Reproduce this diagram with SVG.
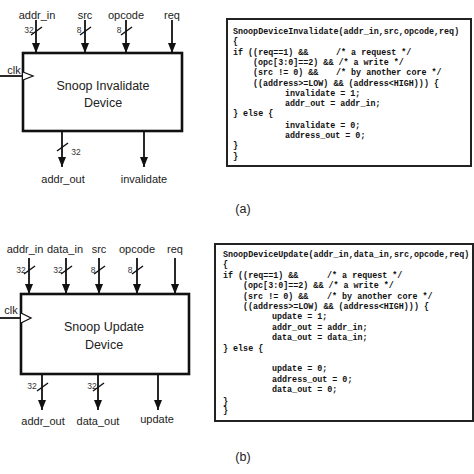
<svg xmlns="http://www.w3.org/2000/svg" width="474" height="474" viewBox="0 0 474 474">
<style>
  .lbl{font-family:"Liberation Sans",Arial,sans-serif;font-size:11px;fill:#222;text-anchor:middle}
  .bw{font-family:"Liberation Sans",Arial,sans-serif;font-size:8.5px;fill:#333;text-anchor:middle}
  .title{font-family:"Liberation Sans",Arial,sans-serif;font-size:12.5px;fill:#222;text-anchor:middle}
  .cap{font-family:"Liberation Sans",Arial,sans-serif;font-size:12.5px;fill:#222;text-anchor:middle}
  .code{font-family:"Liberation Mono","Courier New",monospace;font-size:8.4px;fill:#111;font-weight:bold}
  .blk{fill:#fff;stroke:#111;stroke-width:2.6}
  .cbox{fill:#fff;stroke:#222;stroke-width:2}
  .wire{stroke:#111;stroke-width:1.8;fill:none}
  .slash{stroke:#111;stroke-width:1.5}
  .clkt{fill:#fff;stroke:#111;stroke-width:1.3}
</style>
<defs>
  <marker id="ah" viewBox="0 0 10 8" refX="10" refY="4" markerWidth="10" markerHeight="8" markerUnits="userSpaceOnUse" orient="auto">
    <path d="M0,0 L10,4 L0,8 z" fill="#111"/>
  </marker>
</defs>

<!-- connectors -->
<g id="connectors">
  <!-- top device -->
  <line class="wire" x1="36" y1="20" x2="36" y2="53" marker-end="url(#ah)"/>
  <line class="wire" x1="85" y1="20" x2="85" y2="53" marker-end="url(#ah)"/>
  <line class="wire" x1="126" y1="20" x2="126" y2="53" marker-end="url(#ah)"/>
  <line class="wire" x1="172" y1="20" x2="172" y2="53" marker-end="url(#ah)"/>
  <line class="wire" x1="0" y1="76" x2="23" y2="76"/>
  <line class="wire" x1="62" y1="131" x2="62" y2="167" marker-end="url(#ah)"/>
  <line class="wire" x1="144" y1="131" x2="144" y2="167" marker-end="url(#ah)"/>
  <line class="slash" x1="31" y1="35" x2="42" y2="27"/>
  <line class="slash" x1="80" y1="35" x2="91" y2="27"/>
  <line class="slash" x1="121" y1="35" x2="132" y2="27"/>
  <line class="slash" x1="57" y1="151" x2="68" y2="143"/>
  <!-- bottom device -->
  <line class="wire" x1="29" y1="258" x2="29" y2="294" marker-end="url(#ah)"/>
  <line class="wire" x1="66" y1="258" x2="66" y2="294" marker-end="url(#ah)"/>
  <line class="wire" x1="99" y1="258" x2="99" y2="294" marker-end="url(#ah)"/>
  <line class="wire" x1="137" y1="258" x2="137" y2="294" marker-end="url(#ah)"/>
  <line class="wire" x1="175" y1="258" x2="175" y2="294" marker-end="url(#ah)"/>
  <line class="wire" x1="0" y1="318" x2="21" y2="318"/>
  <line class="wire" x1="42" y1="374" x2="42" y2="410" marker-end="url(#ah)"/>
  <line class="wire" x1="98" y1="374" x2="98" y2="410" marker-end="url(#ah)"/>
  <line class="wire" x1="158" y1="374" x2="158" y2="410" marker-end="url(#ah)"/>
  <line class="slash" x1="24" y1="274" x2="35" y2="266"/>
  <line class="slash" x1="61" y1="274" x2="72" y2="266"/>
  <line class="slash" x1="94" y1="274" x2="105" y2="266"/>
  <line class="slash" x1="132" y1="274" x2="143" y2="266"/>
  <line class="slash" x1="37" y1="391" x2="48" y2="383"/>
  <line class="slash" x1="93" y1="391" x2="104" y2="383"/>
</g>

<!-- top block -->
<g id="snoop-invalidate">
  <rect class="blk" x="23" y="53" width="159" height="78"/>
  <path class="clkt" d="M23,72 L33,76 L23,80"/>
  <text class="title" x="103" y="90">Snoop Invalidate</text>
  <text class="title" x="103" y="107">Device</text>
</g>
<g id="labels-a">
  <text class="lbl" x="37" y="19">addr_in</text>
  <text class="lbl" x="85" y="19">src</text>
  <text class="lbl" x="126" y="19">opcode</text>
  <text class="lbl" x="172" y="19">req</text>
  <text class="lbl" x="14" y="74">clk</text>
  <text class="bw" x="29" y="33">32</text>
  <text class="bw" x="79" y="33">8</text>
  <text class="bw" x="119" y="33">8</text>
  <text class="bw" x="76" y="155">32</text>
  <text class="lbl" x="63" y="183">addr_out</text>
  <text class="lbl" x="144" y="183">invalidate</text>
</g>

<!-- bottom block -->
<g id="snoop-update">
  <rect class="blk" x="21" y="294" width="168" height="80"/>
  <path class="clkt" d="M21,313 L31,318 L21,323"/>
  <text class="title" x="104" y="331">Snoop Update</text>
  <text class="title" x="104" y="349">Device</text>
</g>
<g id="labels-b">
  <text class="lbl" x="25" y="253">addr_in</text>
  <text class="lbl" x="65" y="253">data_in</text>
  <text class="lbl" x="99" y="253">src</text>
  <text class="lbl" x="137" y="253">opcode</text>
  <text class="lbl" x="175" y="253">req</text>
  <text class="lbl" x="11" y="314">clk</text>
  <text class="bw" x="21" y="273">32</text>
  <text class="bw" x="58" y="273">32</text>
  <text class="bw" x="93" y="273">8</text>
  <text class="bw" x="130" y="273">8</text>
  <text class="bw" x="32" y="389">32</text>
  <text class="bw" x="92" y="389">32</text>
  <text class="lbl" x="43" y="425">addr_out</text>
  <text class="lbl" x="98" y="425">data_out</text>
  <text class="lbl" x="157" y="423">update</text>
</g>

<!-- code box a -->
<g id="code-invalidate">
  <rect class="cbox" x="227" y="19" width="244" height="147"/>
  <text class="code" x="233" y="34">SnoopDeviceInvalidate(addr_in,src,opcode,req)</text>
  <text class="code" x="233" y="44.3">{</text>
  <text class="code" x="233" y="54.6">if ((req==1) &amp;&amp;</text>
  <text class="code" x="336" y="54.6">/* a request */</text>
  <text class="code" x="253" y="64.9" xml:space="preserve">(opc[3:0]==2) &amp;&amp; /* a write */</text>
  <text class="code" x="253" y="75.2">(src != 0) &amp;&amp;</text>
  <text class="code" x="336" y="75.2">/* by another core */</text>
  <text class="code" x="253" y="85.5">((address&gt;=LOW) &amp;&amp; (address&lt;HIGH))) {</text>
  <text class="code" x="285" y="95.8">invalidate = 1;</text>
  <text class="code" x="285" y="106.1">addr_out = addr_in;</text>
  <text class="code" x="233" y="116.4">} else {</text>
  <text class="code" x="285" y="127.7">invalidate = 0;</text>
  <text class="code" x="285" y="138">address_out = 0;</text>
  <text class="code" x="233" y="148.3">}</text>
  <text class="code" x="233" y="158.6">}</text>
</g>

<!-- code box b -->
<g id="code-update">
  <rect class="cbox" x="215" y="244" width="258" height="177"/>
  <text class="code" x="223" y="257">SnoopDeviceUpdate(addr_in,data_in,src,opcode,req)</text>
  <text class="code" x="223" y="267.4">{</text>
  <text class="code" x="223" y="277.8">if ((req==1) &amp;&amp;</text>
  <text class="code" x="327" y="277.8">/* a request */</text>
  <text class="code" x="243" y="288.2" xml:space="preserve">(opc[3:0]==2) &amp;&amp; /* a write */</text>
  <text class="code" x="243" y="298.6">(src != 0) &amp;&amp;</text>
  <text class="code" x="327" y="298.6">/* by another core */</text>
  <text class="code" x="243" y="309">((address&gt;=LOW) &amp;&amp; (address&lt;HIGH))) {</text>
  <text class="code" x="272" y="319.4">update = 1;</text>
  <text class="code" x="272" y="329.8">addr_out = addr_in;</text>
  <text class="code" x="272" y="340.2">data_out = data_in;</text>
  <text class="code" x="223" y="350.6">} else {</text>
  <text class="code" x="272" y="371.4">update = 0;</text>
  <text class="code" x="272" y="381.8">address_out = 0;</text>
  <text class="code" x="272" y="392.2">data_out = 0;</text>
  <text class="code" x="223" y="404">}</text>
  <text class="code" x="223" y="413">}</text>
</g>

<text class="cap" x="243" y="213">(a)</text>
<text class="cap" x="243" y="461">(b)</text>
</svg>
